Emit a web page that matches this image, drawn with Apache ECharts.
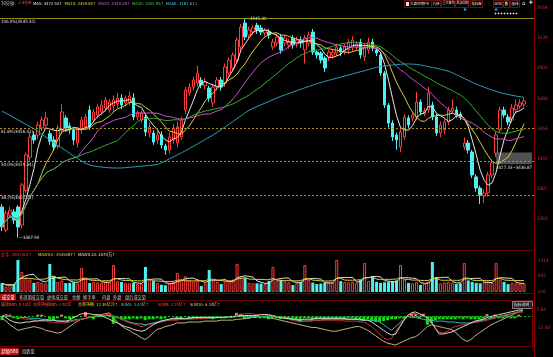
<!DOCTYPE html>
<html>
<head>
<meta charset="utf-8">
<script src="https://cdn.jsdelivr.net/npm/echarts@6/dist/echarts.min.js"></script>
<style>
html,body{margin:0;padding:0;background:#000;overflow:hidden;}
#chart{width:553px;height:357px;}
</style>
</head>
<body>
<div id="chart"></div>
<script>
// ---------------- data ----------------
const opens = [3392.6,3374,3386,3388.6,3392.6,3378,3406,3433,3451,3451,
3456.7,3459,3452,3447,3442,3455,3464.8,3458.3,3455.1,3444.5,
3455,3457.5,3471.3,3463.2,3467.2,3469.7,3472.9,3471.3,3474.5,3476.1,
3481,3477,3477.8,3481,3465.6,3463.2,3465.6,3452.6,3452.6,3447,
3451,3442.1,3438.8,3447,3444.5,3449.4,3471.3,3485.1,3489.9,3493.2,
3495.6,3491,3489.1,3477,3489.9,3495.6,3493.2,3501.3,3505.3,3511.8,
3522.4,3541.8,3532.1,3534.5,3540,3537.8,3533.7,3534.5,3522.4,3525.6,
3530.5,3525.6,3524,3529.7,3524.8,3528,3519.9,3525.6,3534.5,3518.3,
3517.5,3513.4,3514.3,3515.9,3517.5,3521.6,3518.3,3519.9,3521.6,3522.4,
3526.4,3514.3,3519.9,3526.4,3519.9,3515.9,3501.3,3475.3,3460.7,3451,
3441.3,3449.4,3464.8,3464.8,3465.6,3477.8,3468,3471.3,3475.3,3465.6,
3452.6,3455.1,3461.5,3470.5,3471.3,3468,3441.3,3444.5,3437.2,3417,
3408,3401.5,3404,3418.6,3436.4,3455.1,3471.3,3465.6,3463.2,3471.3,
3474.5,3476.1];
const closes = [3376.4,3387.8,3390,3382,3376.4,3410.5,3434.8,3449.4,3447,3459,
3463.2,3464.8,3446,3441.3,3456.7,3469.7,3456.7,3455.1,3447,3455.1,
3463.2,3465.6,3457.5,3469.7,3473.7,3475.3,3479.4,3477.8,3479.4,3481,
3475.3,3481,3482.6,3465.6,3468.8,3468.8,3453.4,3457.5,3445.3,3451,
3442.9,3438.8,3449.4,3456.7,3457.5,3463.2,3487.5,3489.9,3495.6,3501.3,
3491.6,3494,3481,3489.9,3495.6,3489.9,3506.2,3511.8,3515.9,3528,
3538.6,3530.5,3536.2,3538,3536.2,3534.5,3536.2,3532.1,3526.4,3530.5,
3519.9,3529.7,3526.4,3524,3528,3525.6,3529.7,3532.1,3518.3,3515.9,
3511.8,3505.3,3518.3,3518.3,3522.4,3518.3,3522.4,3526.4,3528,3524.8,
3515.9,3522.4,3526.4,3521.6,3517.5,3501.3,3475.3,3460.7,3449.4,3447,
3453.4,3465.6,3459.1,3467.2,3477.8,3469.7,3470.5,3485.1,3465.6,3452.6,
3459.1,3461.5,3471.3,3472.9,3467.2,3465.6,3444.5,3438.8,3418.6,3408,
3402.3,3404,3418.6,3428.3,3451,3471.3,3467.2,3461.5,3472.9,3475.3,
3477,3478.6];
const lows = [3373,3372,3384,3379,3367.94,3375,3404,3430,3444,3448,
3454,3457,3443,3438,3440,3452,3454,3452,3443,3441,
3452,3455,3455,3461,3465,3467,3470,3469,3470,3473,
3472,3474,3475,3463,3463,3461,3450,3449,3443,3444,
3440,3435,3436,3444,3441,3447,3468,3483,3487,3490,
3489,3488,3478,3474,3487,3487,3490,3499,3503,3509,
3520,3528,3529,3532,3533,3532,3531,3529,3520,3523,
3517,3523,3521,3521,3522,3522,3509,3523,3516,3513,
3509,3502,3511,3513,3515,3515,3516,3517,3519,3520,
3513,3511,3517,3519,3515,3499,3473,3457,3446,3439,
3437,3447,3456,3462,3463,3467,3466,3469,3463,3450,
3449,3452,3459,3468,3465,3463,3439,3436,3416,3405,
3395,3396,3401,3416,3433,3453,3465,3459,3461,3469,
3472,3474];
const highs = [3395,3390,3393,3391,3394,3412,3437,3453,3454,3462,
3466,3470,3455,3450,3459,3476,3467,3461,3457,3457,
3466,3468,3475,3472,3476,3479,3482,3480,3483,3485,
3484,3483,3486,3485,3471,3471,3468,3461,3455,3454,
3454,3444,3453,3460,3462,3466,3490,3493,3498,3507,
3498,3497,3491,3492,3498,3498,3509,3514,3518,3530,
3541,3545.32,3539,3540,3542,3540,3538,3537,3529,3533,
3533,3532,3529,3532,3531,3531,3532,3535,3537,3520,
3519,3515,3520,3521,3525,3524,3525,3529,3531,3527,
3529,3525,3530,3529,3522,3518,3503,3477,3463,3453,
3456,3468,3467,3469,3486,3480,3473,3490,3478,3468,
3462,3464,3474,3480,3474,3470,3449,3447,3439,3419,
3410,3407,3421,3431,3454,3474,3474,3468,3476,3480,
3480,3481];
// MA60 (its window reaches before the visible data)
const ma60 = [3470.4,3468.6,3466.9,3465.1,3463.3,3461.5,3459.7,3457.9,3456.1,3453.9,
3451.6,3449.3,3447.0,3444.8,3442.6,3440.4,3438.3,3436.1,3434.0,3431.9,
3429.8,3428.0,3426.8,3426.0,3425.4,3425.0,3424.7,3424.4,3424.3,3424.2,
3424.3,3424.5,3424.8,3425.1,3425.4,3425.7,3426.0,3426.3,3426.6,3427.1,
3428.4,3430.0,3431.7,3433.3,3434.9,3436.5,3438.2,3440.0,3441.8,3443.7,
3445.5,3447.4,3449.2,3451.1,3453.1,3455.3,3457.6,3459.9,3462.1,3464.4,
3466.6,3468.9,3471.1,3472.7,3474.1,3475.5,3476.9,3478.3,3479.7,3481.1,
3482.4,3483.5,3484.7,3485.8,3487.0,3488.1,3489.3,3490.4,3491.5,3492.6,
3493.6,3494.5,3495.4,3496.2,3497.1,3498.0,3498.8,3499.7,3500.6,3501.5,
3502.3,3503.2,3504.1,3505.0,3505.8,3506.5,3507.0,3507.4,3507.8,3508.1,
3508.4,3508.6,3508.6,3508.5,3508.3,3507.8,3507.2,3506.5,3505.8,3505.1,
3504.4,3503.6,3502.8,3501.5,3500.0,3498.4,3496.9,3495.3,3493.8,3492.3,
3491.0,3489.8,3488.6,3487.5,3486.4,3485.4,3484.6,3483.9,3483.2,3482.6,
3482.0,3481.6];
const volumes = [370,220,300,330,1330,830,600,520,380,420,
380,350,1160,660,420,480,370,380,400,360,
1000,560,370,420,400,380,430,400,1120,450,
415,380,360,370,330,350,1040,500,450,380,
300,280,350,420,790,520,650,480,430,460,
250,360,913,470,420,330,450,480,520,1160,
600,580,380,360,360,350,330,450,1040,480,
500,440,400,290,380,420,1120,500,390,330,
350,380,420,400,1330,450,420,400,430,380,
500,1200,460,660,420,380,400,420,450,480,
1120,520,380,360,420,290,350,420,1245,620,
360,400,420,380,330,360,1200,480,420,380,
360,400,430,380,1200,520,420,330,380,360,
350,360];
const bbdBars = [-4,2.5,2,-2,-3,0,0,0,0,2,
2,0,-3,-4,-2,2,-2,-3,-2,0,
0,5,0,-3,2,0,0,2,-8,-2,
-3,-3,-3,-2,-3,-2,-4,-3,-3,-2,
-3,-2,0,0,-3,-3,0,-2,-2,-3,
-3,-2,-2,-3,-2,-2,-2,0,0,4,
3,-3,-2,0,2,-2,-2,-3,-2,-2,
-3,-2,-2,-3,-3,-5,-2,-2,-3,-3,
-2,-3,-3,-2,-3,-2,-3,-2,-2,-3,
-3,-4,-3,-5,-6,-6,-5,-4,-3,-3,
-2,-2,0,3,3,-2,3,-9,-7,-4,
-3,-3,-3,-3,-3,-2,-3,-2,-3,-3,
-3,-2,2.5,-2,2,-2,-2,2,-2,-2,
2,0];
const bbdWhite = [1,-1,-4,-6,-7,-7,-6,-6,-5,-5,
-4,-4,-4,-4,-5,-5,-5,-4,-1,1,
3,3,3,2,2,1,-1,-3,-5,-7,
-9,-11,-12,-14,-15,-16,-15,-12,-9,-7,
-5,-4,-3,-2,-2,-2,-2,-2,-1,-1,
-1,-1,-1,-1,-1,-1,-1,0,0,0,
1,1,1,1,1,2,2,2,1,0,
-1,-2,-2,-3,-3,-4,-3,-3,-3,-2,
-2,-2,-2,-2,-2,-2,-2,-3,-3,-3,
-3,-4,-4,-6,-9,-12,-15,-18,-20,-19,
-12,-5,1,4,5,3,1,-1,-6,-13,
-19,-19,-18,-17,-15,-13,-11,-9,-7,-5,
-4,-3,-1,0,1,2,3,4,5,6,
7,7];
const bbdRed = [1,1,0,-1,-1,-2,-3,-3,-4,-4,
-5,-5,-6,-6,-7,-7,-7,-6,-5,-4,
-3,-2,-1,0,1,1,2,2,1,-1,
-3,-5,-7,-8,-9,-11,-10,-9,-8,-7,
-6,-5,-4,-4,-4,-3,-3,-3,-3,-2,
-2,-2,-2,-1,-1,-1,-1,0,0,1,
2,3,3,3,2,2,2,1,1,0,
-1,-2,-3,-4,-5,-6,-5,-5,-5,-4,
-4,-4,-4,-4,-4,-4,-5,-5,-5,-5,
-6,-6,-8,-11,-15,-19,-23,-25,-24,-17,
-10,-4,1,3,3,1,0,-2,-7,-12,
-17,-18,-16,-13,-11,-10,-9,-8,-7,-6,
-6,-5,-4,-3,-2,0,1,2,3,4,
5,5];
const bbdCyan = [0,0,0,-1,-1,-1,-1,-2,-2,-2,
-3,-3,-4,-4,-5,-5,-6,-5,-4,-3,
-3,-2,-1,-1,0,0,1,1,0,-1,
-3,-4,-6,-7,-8,-8,-9,-8,-7,-6,
-5,-4,-4,-3,-3,-3,-3,-2,-2,-2,
-2,-2,-2,-2,-1,-1,-1,-1,-1,0,
0,0,0,0,0,0,0,1,0,0,
-1,-1,-2,-3,-4,-5,-5,-5,-4,-4,
-4,-3,-3,-3,-3,-3,-3,-3,-3,-3,
-4,-4,-4,-4,-4,-6,-9,-12,-15,-11,
-7,-3,0,-1,-1,-2,-3,-4,-4,-5,
-5,-5,-6,-6,-6,-7,-7,-7,-7,-6,
-5,-4,-3,-2,-1,0,1,2,3,4,
5,5];
const bbdTan = [-2,-5,-9,-12,-15,-14,-13,-12,-11,-12,
-13,-15,-16,-17,-18,-17,-14,-11,-8,-5,
-3,-2,-1,0,1,2,3,4,-1,-6,
-10,-13,-15,-18,-20,-23,-25,-22,-18,-14,
-13,-11,-10,-9,-7,-7,-7,-6,-6,-6,
-6,-5,-5,-5,-5,-4,-4,-4,-4,-3,
-3,-2,-2,-1,-1,0,0,-1,-2,-3,
-4,-5,-6,-7,-8,-9,-10,-11,-12,-12,
-13,-14,-15,-16,-16,-15,-14,-13,-12,-11,
-11,-13,-15,-18,-21,-24,-27,-29,-30,-31,
-29,-27,-25,-23,-22,-19,-15,-11,-9,-10,
-11,-12,-13,-14,-17,-21,-25,-27,-25,-21,
-18,-15,-12,-9,-7,-5,-3,-1,1,3,
5,7];
const fibLevels = [3545.32, 3456.41, 3429.34, 3402.27];
const fibNames = ['100.0%', '61.8%', '50.0%', '38.2%'];
const priceTicks = [3383, 3407, 3432, 3456, 3480, 3505, 3530, 3554];
const volTicks = ['x10', '655', '1314'];
const zoneLow = 3427.33, zoneHigh = 3436.87;
const lowIdx = 4, highIdx = 61;

// ---------------- derived ----------------
const N = closes.length;
const days = closes.map((_, i) => String(i + 1));
const kdata = closes.map((c, i) => [opens[i], c, lows[i], highs[i]]);
function movingAvg(arr, n) {
  return arr.map((_, i) => {
    const s = Math.max(0, i - n + 1); let sum = 0;
    for (let k = s; k <= i; k++) sum += arr[k];
    return +(sum / (i - s + 1)).toFixed(2);
  });
}
const ma5 = movingAvg(closes, 5), ma10 = movingAvg(closes, 10),
      ma20 = movingAvg(closes, 20), ma30 = movingAvg(closes, 30);
const mavol5 = movingAvg(volumes, 5), mavol10 = movingAvg(volumes, 10);

const NARROW = "'DejaVu Sans Condensed','Liberation Sans Narrow','Noto Sans CJK SC',sans-serif";
const CJK = "'Noto Sans CJK SC','DejaVu Sans Condensed',sans-serif";
const UP = '#ff3c3c', DOWN = '#4cf2f2';

const mctx = document.createElement('canvas').getContext('2d');
function measure(text, size, family) { mctx.font = size + 'px ' + family; return mctx.measureText(text).width; }

function txt(x, y, text, fill, size, family) {
  return { type: 'text', left: x, top: y, silent: true,
    style: { text: text, fill: fill, fontSize: size || 4.2, fontFamily: family || NARROW } };
}
// lay a row of texts out from their target x, never letting one run into the next
function row(y, items, size, family) {
  let end = -10; const out = [];
  items.forEach(([x, t, c]) => {
    const xx = Math.max(x, end + 2);
    out.push(txt(xx, y, t, c, size, family));
    end = xx + measure(t, size, family);
  });
  return out;
}
function hline(y, color) {
  return { type: 'line', silent: true, shape: { x1: 0, y1: y, x2: 534, y2: y },
    style: { stroke: color || '#6a0000', lineWidth: 1 } };
}
function box(x, y, w, h, stroke, fill) {
  return { type: 'rect', silent: true, shape: { x: x, y: y, width: w, height: h },
    style: { stroke: stroke, fill: fill || 'none', lineWidth: 1 } };
}

const graphics = [
  hline(250.5), hline(293.5), hline(300.5), hline(346.5),
  { type: 'line', silent: true, shape: { x1: 534.5, y1: 0, x2: 534.5, y2: 357 }, style: { stroke: '#8a0000', lineWidth: 1 } },
  txt(1, 1.5, '30分钟', '#c8c8c8', 4.3, CJK),
  txt(18, 1.5, '上证指数', '#ff4040', 3.4, CJK),
  ...row(1.5, [[33, 'MA5: 3472.53↑', '#e8e8e8'], [62, 'MA10: 3459.85↑', '#e0d848'], [95, 'MA20: 3449.28↑', '#e060e0'],
    [130, 'MA30: 3455.95↑', '#40d040'], [160, 'MA60: 3481.61↓', '#40c8d8']], 4.2, NARROW),
  // toolbar
  box(404.5, 0.5, 27, 7, '#6a1010'), { type: 'rect', silent: true, shape: { x: 406, y: 2, width: 3, height: 4 }, style: { fill: '#e0e0e0' } },
  txt(410, 1.8, '大盘同期PK', '#e0e0e0', 3.6, CJK),
  box(431.5, 0.5, 9, 7, '#6a1010'), txt(432.5, 1.8, '九转', '#e0e0e0', 3.6, CJK),
  box(441.5, 0.5, 13, 7, '#6a1010'), txt(442.5, 1.8, '重大事件', '#e0e0e0', 3.0, CJK),
  box(455.5, 0.5, 13, 7, '#6a1010'), txt(456.5, 1.8, '热点回顾', '#e0e0e0', 3.0, CJK),
  box(470.5, 0.5, 12, 7, '#6a1010'), txt(471.5, 1.8, '指标窗', '#e0e0e0', 3.4, CJK),
  box(493.5, 0.5, 9, 7, '#6a1010'), txt(494.5, 1.8, '区间', '#e0e0e0', 3.6, CJK),
  box(503.5, 0.5, 6, 7, '#6a1010'), txt(504.5, 1.8, '叠', '#e0e0e0', 3.6, CJK),
  box(510.5, 0.5, 9, 7, '#6a1010'), txt(511.5, 1.8, '画线', '#e0e0e0', 3.6, CJK),
  txt(522, 0.5, '⌂', '#e0e0e0', 6), txt(529, 0.5, '✚', '#e0e0e0', 5),
  { type: 'circle', silent: true, shape: { cx: 465, cy: 9.5, r: 1.3 }, style: { fill: '#3a8cff' } },
  { type: 'circle', silent: true, shape: { cx: 496, cy: 9.5, r: 1.3 }, style: { fill: '#3a8cff' } },
  txt(494, 12, '✦✦✦✦✦✦✦✦', '#e8e8e8', 4),
  // volume header
  ...row(252.5, [[1, '总手: 4951324↑', '#ff4040'], [38, 'MAVOL5: 3545087↑', '#e0d848'], [75, 'MAVOL10: 4070万↑', '#e0e0e0']], 4.2, NARROW),
  // tab row
  { type: 'rect', silent: true, shape: { x: 0, y: 294, width: 16, height: 6 }, style: { fill: '#b01010' } },
  txt(2, 295, '成交量', '#ffffff', 4.2, CJK),
  txt(19, 295, '多周期成交量', '#c8c8c8', 4.2, CJK),
  txt(47, 295, '虚拟成交量', '#c8c8c8', 4.2, CJK),
  txt(72, 295, '金额', '#c8c8c8', 4.2, CJK),
  txt(83, 295, '换手率', '#c8c8c8', 4.2, CJK),
  txt(102, 295, '内盘', '#c8c8c8', 4.2, CJK),
  txt(113, 295, '外盘', '#c8c8c8', 4.2, CJK),
  txt(125, 295, '盘后成交量', '#c8c8c8', 4.2, CJK),
  // BBD header
  ...row(302.5, [[1, '超级BBD: 5.10亿', '#ff5050'], [22, '大单净量BBD: 0.52亿', '#ff5050'], [78, '大单净额: 12.39亿元↑', '#e0d848'],
    [121, 'SUM3: 3.43亿↑', '#40d0d0'], [158, 'SUM5: 2.15亿↑', '#ff4040'], [190, 'SUM10: 6.34亿↑', '#d8c088']], 4, NARROW),
  box(512.5, 301.5, 20, 7, '#808080', '#202020'), txt(514, 302.8, '指标说明', '#e0e0e0', 3.8, CJK),
  // bottom tabs
  { type: 'rect', silent: true, shape: { x: 0, y: 348, width: 19, height: 7 }, style: { fill: '#b01010' } },
  txt(1.5, 349.5, '超级BBD', '#ffffff', 4.2, CJK),
  txt(22, 349.5, '指数量', '#c8c8c8', 4.2, CJK)
];

const chart = echarts.init(document.getElementById('chart'), null, { renderer: 'canvas' });
const xBase = { type: 'category', data: days, max: N + 1, boundaryGap: true,
  axisLine: { show: false }, axisTick: { show: false }, axisLabel: { show: false }, splitLine: { show: false } };
const PINT = 24.43;
const axisFont = { color: '#d03030', fontSize: 4.6, fontFamily: NARROW };
chart.setOption({
  backgroundColor: '#000',
  animation: false,
  grid: [
    { left: 0, right: 19, top: 8, height: 241 },
    { left: 0, right: 19, top: 258, height: 34 },
    { left: 0, right: 19, top: 307, height: 39 }
  ],
  xAxis: [Object.assign({ gridIndex: 0 }, xBase), Object.assign({ gridIndex: 1 }, xBase), Object.assign({ gridIndex: 2 }, xBase)],
  yAxis: [
    { gridIndex: 0, position: 'right', scale: true, min: 3554 - 8 * PINT, max: 3554.01, interval: PINT,
      axisLine: { show: true, lineStyle: { color: '#8a0000' } }, axisTick: { show: true, length: 2, lineStyle: { color: '#8a0000' } },
      splitLine: { show: false },
      axisLabel: Object.assign({ margin: 3,
        formatter: v => { const t = priceTicks.find(p => Math.abs(p - v) < 1.2); return t ? String(t) : ''; } }, axisFont) },
    { gridIndex: 1, position: 'right', min: 0, max: 1411, interval: 657,
      axisLine: { show: true, lineStyle: { color: '#8a0000' } }, axisTick: { show: false }, splitLine: { show: false },
      axisLabel: Object.assign({ margin: 4, formatter: (v, i) => volTicks[i] || '' }, axisFont) },
    { gridIndex: 2, position: 'right', min: -32.04, max: 10.3, interval: 19.54,
      axisLine: { show: true, lineStyle: { color: '#8a0000' } }, axisTick: { show: false }, splitLine: { show: false },
      axisLabel: Object.assign({ margin: 4,
        formatter: v => Math.abs(v - 7.04) < 0.1 ? '7.04' : (Math.abs(v + 12.5) < 0.1 ? '-12.50' : '') }, axisFont) }
  ],
  series: [
    { type: 'candlestick', xAxisIndex: 0, yAxisIndex: 0, data: kdata, barWidth: 3,
      itemStyle: { color: '#000', color0: DOWN, borderColor: UP, borderColor0: DOWN, borderWidth: 1 },
      markLine: { silent: true, symbol: 'none', animation: false,
        data: fibLevels.map((lv, i) => ({ yAxis: lv,
          lineStyle: i === 0 ? { color: '#8c8c10', type: 'solid', width: 1 } : { color: '#b09020', type: [2, 2], width: 1 },
          label: { show: true, position: 'insideStartBottom', distance: [1, 1], color: '#e0e0e0', fontSize: 4.4, fontFamily: NARROW,
            formatter: fibNames[i] + '(' + lv.toFixed(2) + ')' } })) },
      markPoint: { silent: true, symbol: 'rect', symbolSize: [0.1, 0.1], animation: false,
        itemStyle: { color: 'rgba(0,0,0,0)' },
        data: [
          { coord: [highIdx, highs[highIdx]], label: { show: true, position: 'right', distance: 1, color: '#e0e0e0', fontSize: 4.4, fontFamily: NARROW, formatter: '—' + highs[highIdx].toFixed(2) } },
          { coord: [lowIdx, lows[lowIdx]], label: { show: true, position: 'right', distance: 1, color: '#e0e0e0', fontSize: 4.4, fontFamily: NARROW, formatter: '—' + lows[lowIdx].toFixed(2) } }
        ] },
      markArea: { silent: true, animation: false,
        itemStyle: { color: 'rgba(150,150,150,0.55)' },
        label: { show: true, position: 'bottom', distance: 1, color: '#e0e0e0', fontSize: 4.4, fontFamily: NARROW },
        data: [[{ xAxis: 124, yAxis: zoneHigh, name: zoneLow.toFixed(2) + '~' + zoneHigh.toFixed(2) }, { xAxis: N + 1, yAxis: zoneLow }]] } },
    { type: 'line', xAxisIndex: 0, yAxisIndex: 0, data: ma5, showSymbol: false, lineStyle: { color: '#e8e8e8', width: 1 } },
    { type: 'line', xAxisIndex: 0, yAxisIndex: 0, data: ma10, showSymbol: false, lineStyle: { color: '#d8d040', width: 1 } },
    { type: 'line', xAxisIndex: 0, yAxisIndex: 0, data: ma20, showSymbol: false, lineStyle: { color: '#d050d0', width: 1 } },
    { type: 'line', xAxisIndex: 0, yAxisIndex: 0, data: ma30, showSymbol: false, lineStyle: { color: '#30b030', width: 1 } },
    { type: 'line', xAxisIndex: 0, yAxisIndex: 0, data: ma60, showSymbol: false, lineStyle: { color: '#2aa0b0', width: 1 } },
    { type: 'bar', xAxisIndex: 1, yAxisIndex: 1, barWidth: 3,
      data: volumes.map((v, i) => ({ value: v, itemStyle: closes[i] >= opens[i]
        ? { color: '#000', borderColor: UP, borderWidth: 1 } : { color: DOWN } })) },
    { type: 'line', xAxisIndex: 1, yAxisIndex: 1, data: mavol5, showSymbol: false, lineStyle: { color: '#e0e0e0', width: 1 } },
    { type: 'line', xAxisIndex: 1, yAxisIndex: 1, data: mavol10, showSymbol: false, lineStyle: { color: '#d8d040', width: 1 } },
    { type: 'bar', xAxisIndex: 2, yAxisIndex: 2, barWidth: 3,
      data: bbdBars.map(v => ({ value: v, itemStyle: { color: v >= 0 ? '#ff6a6a' : '#10e010' } })),
      markLine: { silent: true, symbol: 'none', animation: false, label: { show: false },
        lineStyle: { color: '#10c010', type: [2, 2], width: 1 }, data: [{ yAxis: 0 }] } },
    { type: 'line', xAxisIndex: 2, yAxisIndex: 2, data: bbdTan, showSymbol: false, lineStyle: { color: '#c8b080', width: 1 } },
    { type: 'line', xAxisIndex: 2, yAxisIndex: 2, data: bbdCyan, showSymbol: false, lineStyle: { color: '#30b8c0', width: 1 } },
    { type: 'line', xAxisIndex: 2, yAxisIndex: 2, data: bbdRed, showSymbol: false, lineStyle: { color: '#d03030', width: 1 } },
    { type: 'line', xAxisIndex: 2, yAxisIndex: 2, data: bbdWhite, showSymbol: false, lineStyle: { color: '#d8d8d8', width: 1 } }
  ],
  graphic: graphics
});
</script>
</body>
</html>
